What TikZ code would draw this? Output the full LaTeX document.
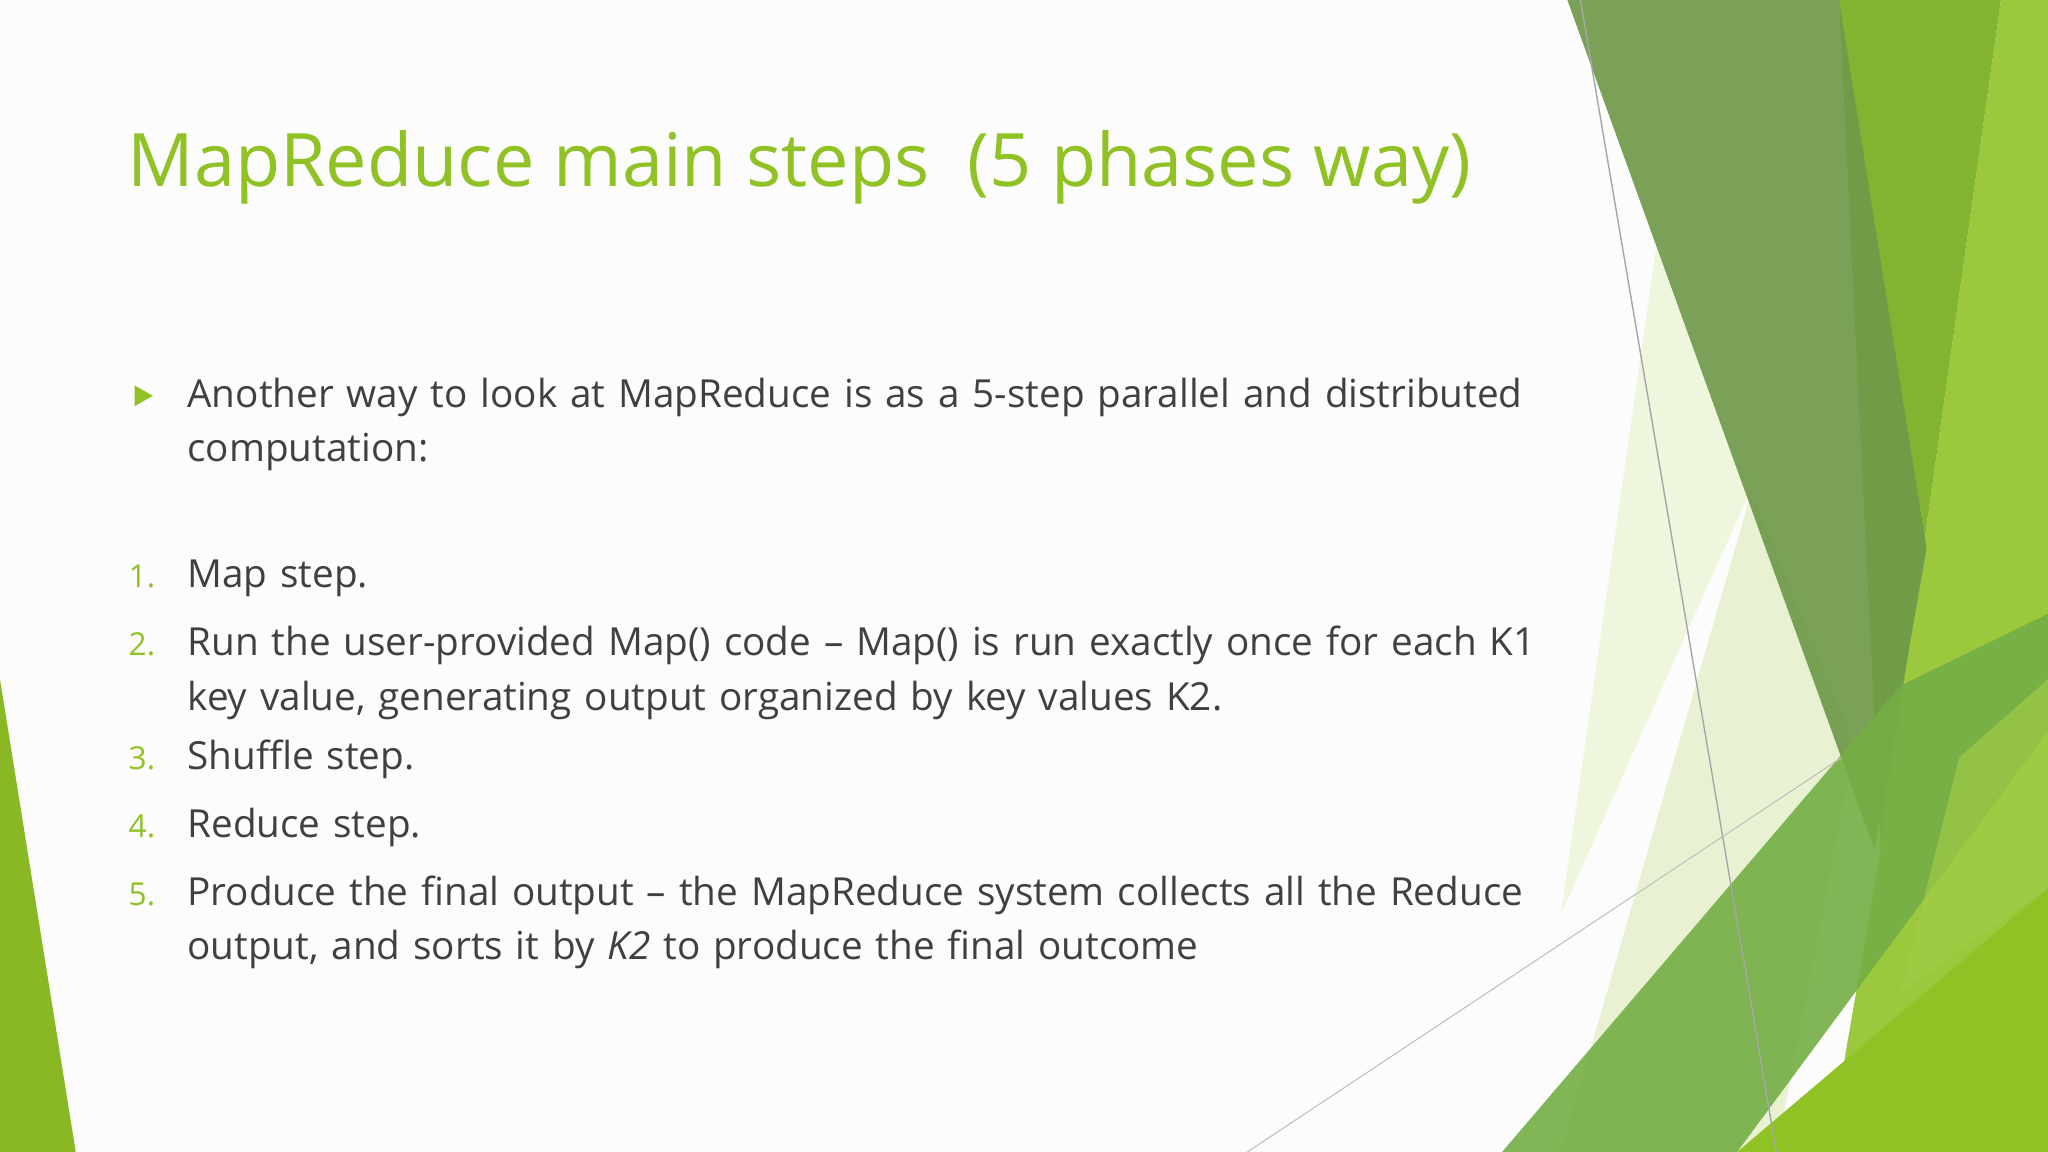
\documentclass[tikz,border=0pt]{standalone}
\usepackage{fontspec}
\setmainfont{Open Sans}
\definecolor{tgreen}{HTML}{90C226}
\definecolor{bandg}{HTML}{82B431}
\definecolor{darkg}{HTML}{6F9A4A}
\definecolor{midg}{HTML}{74AE45}
\definecolor{txt}{HTML}{404040}
\begin{document}
\begin{tikzpicture}[x=0.013061cm,y=-0.013061cm,
  body/.style={anchor=base west,inner sep=0,text=txt,font=\fontsize{11pt}{15.5pt}\selectfont,align=left,text width=14.2cm},
  num/.style={anchor=base west,inner sep=0,text=tgreen,font=\fontsize{9pt}{11pt}\selectfont}]
\useasboundingbox (0,0) rectangle (1568,882);
\fill[white!98!gray] (0,0) rectangle (1568,882);
% left strip
\fill[tgreen!95!black] (0,520) -- (58,882) -- (0,882) -- cycle;
% pale light triangles
\fill[tgreen!25,opacity=0.8] (1260,180) -- (1420,570) -- (1360,882) -- (1195,882) -- (1340,380) -- cycle;
\fill[tgreen!15] (1268,190) -- (1338,380) -- (1195,700) -- cycle;
% light right strip
\fill[tgreen!90!white] (1532,0) -- (1568,0) -- (1568,882) -- (1400,882) -- (1440,650) -- cycle;
% bright green band
\fill[bandg] (1408,0) -- (1532,0) -- (1440,650) -- cycle;
% dark green
\fill[darkg,opacity=0.92] (1200,0) -- (1408,0) -- (1475,420) -- (1435,650) -- cycle;
% bottom dark-mid green
\fill[midg,opacity=0.9] (1150,882) -- (1455,525) -- (1568,470) -- (1568,560) -- (1330,882) -- cycle;
% bottom bright green
\fill[tgreen] (1330,882) -- (1568,680) -- (1568,882) -- cycle;
\fill[tgreen!85!white,opacity=0.7] (1500,580) -- (1568,520) -- (1568,680) -- (1455,760) -- cycle;
% thin lines
\draw[gray!70,line width=0.4pt] (1210,0) -- (1360,882);
\draw[gray!50,line width=0.3pt] (955,882) -- (1410,580);
% title
\node[anchor=base west,inner sep=0,text=tgreen,font=\fontsize{21pt}{24pt}\selectfont] (title) at (97,143) {MapReduce main steps\ \ (5 phases way)};
% bullet
\fill[tgreen] (103,295) -- (117,303) -- (103,311) -- cycle;
\node[body] (b0) at (143,312) {\raggedright\hyphenpenalty=10000 Another way to look at MapReduce is as a 5-step parallel and distributed computation:};
\node[num] (n1) at (98,450) {1.};
\node[body] (s1) at (143,450) {Map step.};
\node[num] (n2) at (98,502) {2.};
\node[body] (s2) at (143,502) {\raggedright\hyphenpenalty=10000 Run the user-provided Map() code – Map() is run exactly once for each K1 key value, generating output organized by key values K2.};
\node[num] (n3) at (98,589) {3.};
\node[body] (s3) at (143,589) {Shuffle step.};
\node[num] (n4) at (98,641) {4.};
\node[body] (s4) at (143,641) {Reduce step.};
\node[num] (n5) at (98,693) {5.};
\node[body] (s5) at (143,693) {\raggedright\hyphenpenalty=10000 Produce the final output – the MapReduce system collects all the Reduce output, and sorts it by \textit{K2} to produce the final outcome};
\end{tikzpicture}
\end{document}
